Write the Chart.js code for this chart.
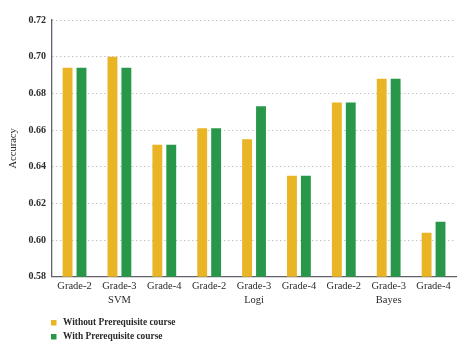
<!DOCTYPE html>
<html>
<head>
<meta charset="utf-8">
<script src="https://cdn.jsdelivr.net/npm/chart.js@4/dist/chart.umd.min.js"></script>
<style>
  html, body { margin: 0; padding: 0; background: #fff; }
  #wrap { width: 474px; height: 358px; position: relative; }
</style>
</head>
<body>
<div id="wrap"><canvas id="myChart"></canvas></div>
<script>
const categorias = [
    'Grade-2', ['Grade-3', 'SVM'], 'Grade-4',
    'Grade-2', ['Grade-3', 'Logi'], 'Grade-4',
    'Grade-2', ['Grade-3', 'Bayes'], 'Grade-4'
];
const semCurso = [0.694, 0.700, 0.652, 0.661, 0.655, 0.635, 0.675, 0.688, 0.604];
const comCurso = [0.694, 0.694, 0.652, 0.661, 0.673, 0.635, 0.675, 0.688, 0.610];
const nomesSeries = ['Without Prerequisite course', 'With Prerequisite course'];
const coresSeries = ['#E9B525', '#28974A'];

const fonteSerif = "'Liberation Serif', 'DejaVu Serif', serif";

// legenda desenhada embaixo, uma linha por serie
const legendaPlugin = {
    id: 'legendaVertical',
    afterDraw (chart) {
        const ctx = chart.ctx;
        ctx.save();
        ctx.font = 'bold 9.4px ' + fonteSerif;
        ctx.textBaseline = 'middle';
        chart.data.datasets.forEach((ds, i) => {
            const y = 322.5 + i * 14;
            ctx.fillStyle = ds.backgroundColor;
            ctx.fillRect(51, y - 2.5, 5.5, 5.5);
            ctx.fillStyle = '#2a2a2a';
            ctx.fillText(ds.label, 63, y + 0.5);
        });
        ctx.restore();
    }
};

const ctx = document.getElementById('myChart');

new Chart(ctx, {
    type: 'bar',
    data: {
        labels: categorias,
        datasets: [{
            label: nomesSeries[0],
            data: semCurso,
            backgroundColor: coresSeries[0]
        }, {
            label: nomesSeries[1],
            data: comCurso,
            backgroundColor: coresSeries[1]
        }]
    },
    options: {
        responsive: true,
        maintainAspectRatio: false,
        animation: false,
        categoryPercentage: 0.62,
        barPercentage: 0.71,
        layout: {
            padding: { top: 20, right: 18, bottom: 48, left: 7 }
        },
        plugins: {
            legend: { display: false },
            tooltip: { enabled: false }
        },
        scales: {
            x: {
                grid: { display: false, drawTicks: false },
                border: { display: true, color: '#62606e', width: 1.3 },
                ticks: {
                    color: '#2a2a2a',
                    font: { family: fonteSerif, size: 10.5, lineHeight: 1.3 },
                    maxRotation: 0,
                    autoSkip: false,
                    padding: 3
                }
            },
            y: {
                min: 0.58,
                max: 0.72,
                grid: {
                    color: '#aaaaaa',
                    drawTicks: false,
                    lineWidth: 1
                },
                border: { display: true, color: '#62606e', width: 1.3, dash: [1, 3] },
                ticks: {
                    stepSize: 0.02,
                    color: '#2a2a2a',
                    padding: 6,
                    font: { family: fonteSerif, size: 10, weight: 'bold' },
                    callback: (v) => v.toFixed(2)
                },
                title: {
                    display: true,
                    text: 'Accuracy',
                    color: '#2a2a2a',
                    font: { family: fonteSerif, size: 10.5 },
                    padding: { top: 0, bottom: 3 }
                }
            }
        }
    },
    plugins: [legendaPlugin]
});
</script>
</body>
</html>
